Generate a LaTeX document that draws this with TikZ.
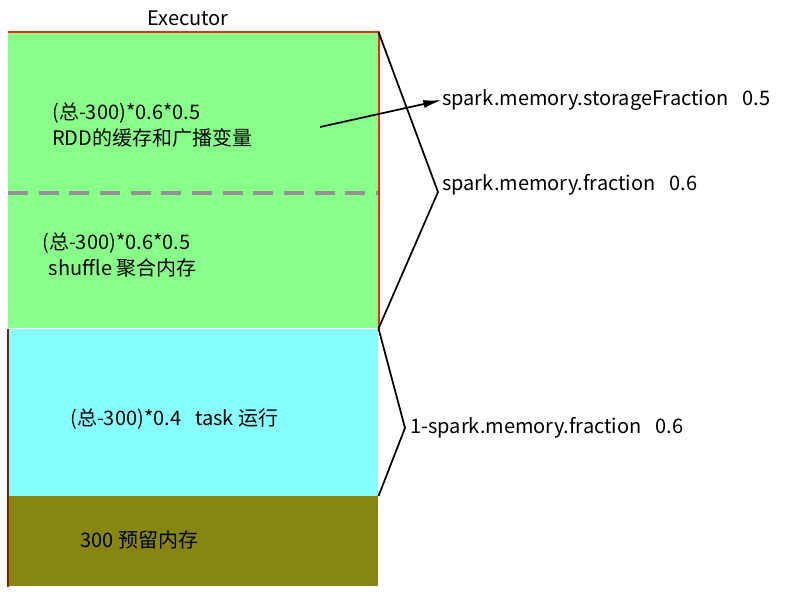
\documentclass[tikz,border=0pt]{standalone}
\usepackage{fontspec}
\setmainfont{Noto Sans CJK SC}
\usetikzlibrary{arrows.meta}
\definecolor{storegreen}{RGB}{136,255,136}
\definecolor{taskcyan}{RGB}{136,255,255}
\definecolor{resolive}{RGB}{134,134,16}
\definecolor{borderred}{RGB}{235,45,20}

\begin{document}
\begin{tikzpicture}[x=0.75pt,y=-0.75pt,font=\fontsize{15}{20}\selectfont]
  \tikzset{block/.style={rectangle,inner sep=0pt,anchor=north west,minimum width=277.5pt},
    txt/.style={inner sep=0pt,anchor=west,align=left},
    brace/.style={line width=1.3pt}}
  \useasboundingbox (0,0) rectangle (800,602);

  \node[block,fill=storegreen,minimum height=222pt] (unified) at (8,32) {};
  \node[block,fill=taskcyan,minimum height=125.25pt] (task) at (unified.south west) {};
  \node[block,fill=resolive,minimum height=67.5pt] (reserved) at (task.south west) {};
  \node (exec) at (188,18) {Executor};

  \draw[borderred,line width=1.5pt] (unified.north west) -- (unified.north east) -- (unified.south east);
  \draw[borderred!60!black,line width=1pt] (task.north west) -- (reserved.south west);
  \coordinate (splitL) at (8,193);
  \coordinate (splitR) at (378,193);
  \draw[gray!85,line width=2.5pt,dash pattern=on 15pt off 8pt] (splitL) -- (splitR);

  \node[txt] (rdd) at (52,125) {(总-300)*0.6*0.5\\RDD的缓存和广播变量};
  \node[txt] (shuffle) at (42,255) {(总-300)*0.6*0.5\\\hspace{5pt}shuffle 聚合内存};
  \node[txt] (run) at (70,419) {(总-300)*0.4\hspace{0.7em}task 运行};
  \node[txt] (keep) at (80,540) {300 预留内存};

  \node[txt] (storage) at (442,100) {spark.memory.storageFraction\hspace{0.7em}0.5};
  \node[txt] (frac) at (442,185) {spark.memory.fraction\hspace{0.7em}0.6};
  \node[txt] (rest) at (410,428) {1-spark.memory.fraction\hspace{0.7em}0.6};

  \coordinate (tipA) at (438,192);
  \coordinate (tipB) at (405,428);
  \coordinate (rddpoint) at (320,127);
  \draw[brace] (unified.north east) -- (tipA) -- (unified.south east);
  \draw[brace] (task.north east) -- (tipB) -- (task.south east);
  \draw[brace,-{Latex[length=14pt,width=6pt]}] (rddpoint) -- (storage.west);

\end{tikzpicture}
\end{document}
